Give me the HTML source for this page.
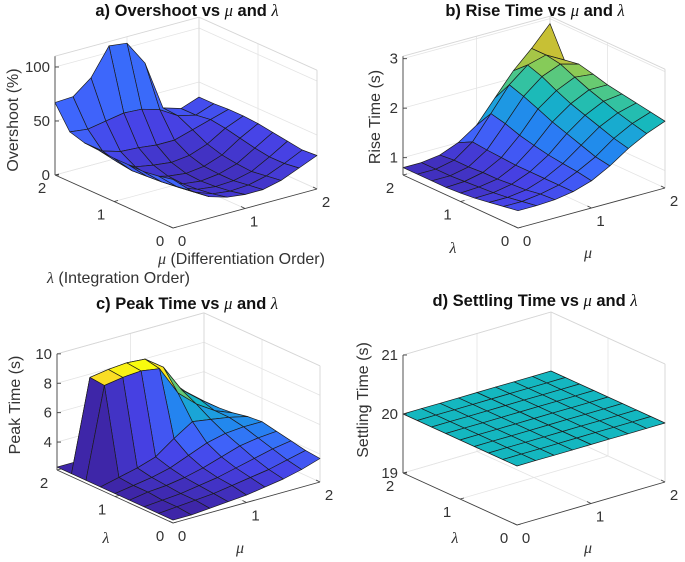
<!DOCTYPE html>
<html><head><meta charset="utf-8">
<style>
html,body{margin:0;padding:0;background:#fff;}
svg{display:block;font-family:"Liberation Sans",sans-serif;}
.t{font-weight:bold;font-size:16.5px;fill:#111;}
.g{font-family:"Liberation Serif",serif;font-style:italic;font-weight:normal;}
.tk{font-size:15px;fill:#333;}
.al{font-size:16px;fill:#333;}
</style></head>
<body>
<svg id="fig" width="685" height="562" viewBox="0 0 685 562">
<g id="layer-grid"></g>
<g id="layer-surf"></g>
<g id="layer-axes"></g>
<text class="t" x="187" y="16" text-anchor="middle">a) Overshoot vs <tspan class="g">μ</tspan> and <tspan class="g">λ</tspan></text>
<text class="t" x="535" y="16" text-anchor="middle">b) Rise Time vs <tspan class="g">μ</tspan> and <tspan class="g">λ</tspan></text>
<text class="t" x="187" y="309" text-anchor="middle">c) Peak Time vs <tspan class="g">μ</tspan> and <tspan class="g">λ</tspan></text>
<text class="t" x="535" y="306" text-anchor="middle">d) Settling Time vs <tspan class="g">μ</tspan> and <tspan class="g">λ</tspan></text>
<text class="al" x="18" y="120" text-anchor="middle" transform="rotate(-90 18 120)">Overshoot (%)</text>
<text class="al" x="380" y="117" text-anchor="middle" transform="rotate(-90 380 117)">Rise Time (s)</text>
<text class="al" x="20" y="405" text-anchor="middle" transform="rotate(-90 20 405)">Peak Time (s)</text>
<text class="al" x="368" y="400" text-anchor="middle" transform="rotate(-90 368 400)">Settling Time (s)</text>
<text class="al" x="158" y="264"><tspan class="g">μ</tspan> (Differentiation Order)</text>
<text class="al" x="47" y="283"><tspan class="g">λ</tspan> (Integration Order)</text>
<text class="al g" x="453" y="253" text-anchor="middle">λ</text>
<text class="al g" x="588" y="258" text-anchor="middle">μ</text>
<text class="al g" x="106" y="543" text-anchor="middle">λ</text>
<text class="al g" x="240" y="553" text-anchor="middle">μ</text>
<text class="al g" x="455" y="543" text-anchor="middle">λ</text>
<text class="al g" x="588" y="553" text-anchor="middle">μ</text>
</svg>
<script>
// grid coordinates
const muVals = [0,0.25,0.5,0.75,1,1.25,1.5,1.75,2];
const lamVals = [0,0.25,0.5,0.75,1,1.25,1.5,1.75,2];
// rows = lambda index, columns = mu index
const overshootZ = [
 [45,30,20,15,13,13,17,24,31],
 [42,28,18,12,10,11,15,22,30],
 [40,26,16,10,8,9,13,22,32],
 [40,25,15,9,7,9,14,24,34],
 [40,24,14,10,8,10,16,27,36],
 [41,26,17,14,12,14,20,30,37],
 [42,30,25,24,22,22,27,32,37],
 [46,44,47,50,49,44,34,30,36],
 [67,68,81,106,104,81,35,30,36]
];
const riseZ = [
 [1.0,1.0,1.02,1.08,1.2,1.4,1.65,1.85,2.0],
 [0.95,0.95,1.0,1.08,1.25,1.45,1.72,1.92,2.05],
 [0.9,0.9,0.95,1.08,1.28,1.55,1.82,2.0,2.1],
 [0.85,0.86,0.93,1.08,1.32,1.65,1.92,2.1,2.15],
 [0.82,0.84,0.9,1.08,1.38,1.75,2.02,2.2,2.2],
 [0.8,0.82,0.9,1.1,1.45,1.88,2.15,2.32,2.28],
 [0.8,0.8,0.88,1.12,1.55,2.0,2.3,2.45,2.35],
 [0.8,0.8,0.88,1.15,1.62,2.1,2.4,2.5,2.3],
 [0.8,0.8,0.85,1.0,1.25,1.7,2.15,2.5,2.9]
];
const peakZ = [
 [2.3,2.3,2.4,2.5,2.6,2.8,3.0,3.3,3.7],
 [2.3,2.4,2.5,2.6,2.8,3.0,3.2,3.5,3.8],
 [2.3,2.4,2.5,2.7,2.9,3.2,3.5,3.8,4.0],
 [2.3,2.5,2.6,2.8,3.1,3.5,3.9,4.1,4.2],
 [2.3,2.5,2.7,3.0,3.5,4.0,4.3,4.4,4.4],
 [2.3,2.6,2.9,3.3,4.2,5.0,4.8,4.6,4.3],
 [2.3,8.4,8.6,8.7,8.5,6.5,5.4,4.6,4.1],
 [2.3,8.5,8.7,8.8,8.7,7.8,5.9,4.9,4.0],
 [2.3,2.3,2.4,2.5,2.7,6.8,6.2,5.0,4.0]
];
const settleZ = [
 [20,20,20,20,20,20,20,20,20],
 [20,20,20,20,20,20,20,20,20],
 [20,20,20,20,20,20,20,20,20],
 [20,20,20,20,20,20,20,20,20],
 [20,20,20,20,20,20,20,20,20],
 [20,20,20,20,20,20,20,20,20],
 [20,20,20,20,20,20,20,20,20],
 [20,20,20,20,20,20,20,20,20],
 [20,20,20,20,20,20,20,20,20]
];
const overshootTicks = [0,50,100];
const riseTicks = [1,2,3];
const peakTicks = [4,6,8,10];
const settleTicks = [19,20,21];
const muTicks = [0,1,2];
const lamTicks = [0,1,2];

const NS = "http://www.w3.org/2000/svg";
const gGrid = document.getElementById('layer-grid');
const gSurf = document.getElementById('layer-surf');
const gAx = document.getElementById('layer-axes');

const parulaStops = [
 [0.00,62,38,168],[0.10,71,66,230],[0.20,62,102,252],[0.30,35,133,240],
 [0.40,28,160,222],[0.50,20,183,192],[0.60,62,198,150],[0.70,128,204,92],
 [0.80,200,192,52],[0.90,252,186,60],[1.00,249,251,14]
];
function parula(t){
  t=Math.max(0,Math.min(1,t));
  for(let k=1;k<parulaStops.length;k++){
    const a=parulaStops[k-1],b=parulaStops[k];
    if(t<=b[0]){const f=(t-a[0])/(b[0]-a[0]);
      return 'rgb('+[1,2,3].map(i=>Math.round(a[i]+(b[i]-a[i])*f)).join(',')+')';}
  }
  return 'rgb(249,251,14)';
}

function makePanel(cfg){
  const P=(u,l,z)=>[cfg.O[0]+cfg.eu[0]*u+cfg.el[0]*l, cfg.O[1]+cfg.eu[1]*u+cfg.el[1]*l-(z-cfg.zmin)*cfg.zpx];
  const line=(a,b,stroke,w,name,layer)=>{
    const e=document.createElementNS(NS,'line');
    e.setAttribute('x1',a[0]);e.setAttribute('y1',a[1]);e.setAttribute('x2',b[0]);e.setAttribute('y2',b[1]);
    e.setAttribute('stroke',stroke);e.setAttribute('stroke-width',w);
    
    
    layer.appendChild(e);
  };
  const text=(p,s,anchor,name)=>{
    const e=document.createElementNS(NS,'text');
    e.setAttribute('x',p[0]);e.setAttribute('y',p[1]);e.setAttribute('text-anchor',anchor);
    e.setAttribute('class','tk');e.textContent=s;
    
    
    gAx.appendChild(e);
  };
  const gc='#e4e4e4', bc='#d6d6d6';
  for(const m of muTicks) line(P(m,0,cfg.zmin),P(m,2,cfg.zmin),gc,0.8,'floor-gridline',gGrid);
  for(const l of lamTicks) line(P(0,l,cfg.zmin),P(2,l,cfg.zmin),gc,0.8,'floor-gridline',gGrid);
  for(const m of muTicks) line(P(m,2,cfg.zmin),P(m,2,cfg.zmax),gc,0.8,'wall-gridline',gGrid);
  for(const z of cfg.ticks) line(P(0,2,z),P(2,2,z),gc,0.8,'wall-gridline',gGrid);
  for(const l of lamTicks) line(P(2,l,cfg.zmin),P(2,l,cfg.zmax),gc,0.8,'wall-gridline',gGrid);
  for(const z of cfg.ticks) line(P(2,0,z),P(2,2,z),gc,0.8,'wall-gridline',gGrid);
  line(P(0,2,cfg.zmax),P(2,2,cfg.zmax),bc,0.9,'box-edge',gGrid);
  line(P(2,0,cfg.zmax),P(2,2,cfg.zmax),bc,0.9,'box-edge',gGrid);
  line(P(2,0,cfg.zmin),P(2,0,cfg.zmax),bc,0.9,'box-edge',gGrid);
  line(P(2,2,cfg.zmin),P(2,2,cfg.zmax),bc,0.9,'box-edge',gGrid);
  const Z=cfg.Z, n=muVals.length, m=lamVals.length;
  const cells=[];
  for(let j=0;j<m-1;j++)for(let i=0;i<n-1;i++)cells.push([i,j]);
  cells.sort((a,b)=>(b[0]+b[1])-(a[0]+a[1]));
  for(const [i,j] of cells){
    const pts=[[i,j],[i+1,j],[i+1,j+1],[i,j+1]].map(([a,b])=>P(muVals[a],lamVals[b],Z[b][a]));
    const v=Z[j][i];
    const t=cfg.cmax>cfg.cmin?(v-cfg.cmin)/(cfg.cmax-cfg.cmin):0.5;
    const poly=document.createElementNS(NS,'polygon');
    poly.setAttribute('points',pts.map(p=>p[0].toFixed(1)+','+p[1].toFixed(1)).join(' '));
    poly.setAttribute('fill',parula(t));
    poly.setAttribute('stroke','#1c1c1c');
    poly.setAttribute('stroke-width','0.7');
    poly.setAttribute('stroke-linejoin','round');
    
    
    gSurf.appendChild(poly);
  }
  const ac='#404040';
  line(P(0,2,cfg.zmin),P(0,2,cfg.zmax),ac,0.9,cfg.id+'-z-axis',gAx);
  line(P(0,0,cfg.zmin),P(0,2,cfg.zmin),ac,0.9,cfg.id+'-lambda-axis',gAx);
  line(P(0,0,cfg.zmin),P(2,0,cfg.zmin),ac,0.9,cfg.id+'-mu-axis',gAx);
  for(const z of cfg.ticks){
    const p=P(0,2,z);
    line(p,[p[0]+4,p[1]],ac,0.9,'z-tick',gAx);
    text([p[0]-5,p[1]+5],String(z),'end',cfg.id+'-z-tick-label');
  }
  for(const l of lamTicks){
    const p=P(0,l,cfg.zmin);
    line(p,[p[0]+4,p[1]-1],ac,0.9,'lambda-tick',gAx);
    text([p[0]-13,p[1]+18],String(l),'middle',cfg.id+'-lambda-tick-label');
  }
  for(const u of muTicks){
    const p=P(u,0,cfg.zmin);
    line(p,[p[0]-4,p[1]-2],ac,0.9,'mu-tick',gAx);
    text([p[0]+9,p[1]+18],String(u),'middle',cfg.id+'-mu-tick-label');
  }
}

makePanel({id:'overshoot',O:[173,228],eu:[72,-19.5],el:[-59,-26.5],zmin:0,zmax:110,zpx:1.08,cmin:0,cmax:230,ticks:overshootTicks,Z:overshootZ});
makePanel({id:'rise',O:[518,228],eu:[73.5,-20],el:[-57.5,-26.5],zmin:0.65,zmax:3.05,zpx:49.5,cmin:0.72,cmax:2.95,ticks:riseTicks,Z:riseZ});
makePanel({id:'peak',O:[173,523],eu:[73.5,-20.5],el:[-58,-26.5],zmin:2.1,zmax:10,zpx:14.7,cmin:2.3,cmax:8.7,ticks:peakTicks,Z:peakZ});
makePanel({id:'settle',O:[517,525],eu:[74,-21.5],el:[-57,-26],zmin:19,zmax:21,zpx:59,cmin:20,cmax:20,ticks:settleTicks,Z:settleZ});
</script>
</body></html>
